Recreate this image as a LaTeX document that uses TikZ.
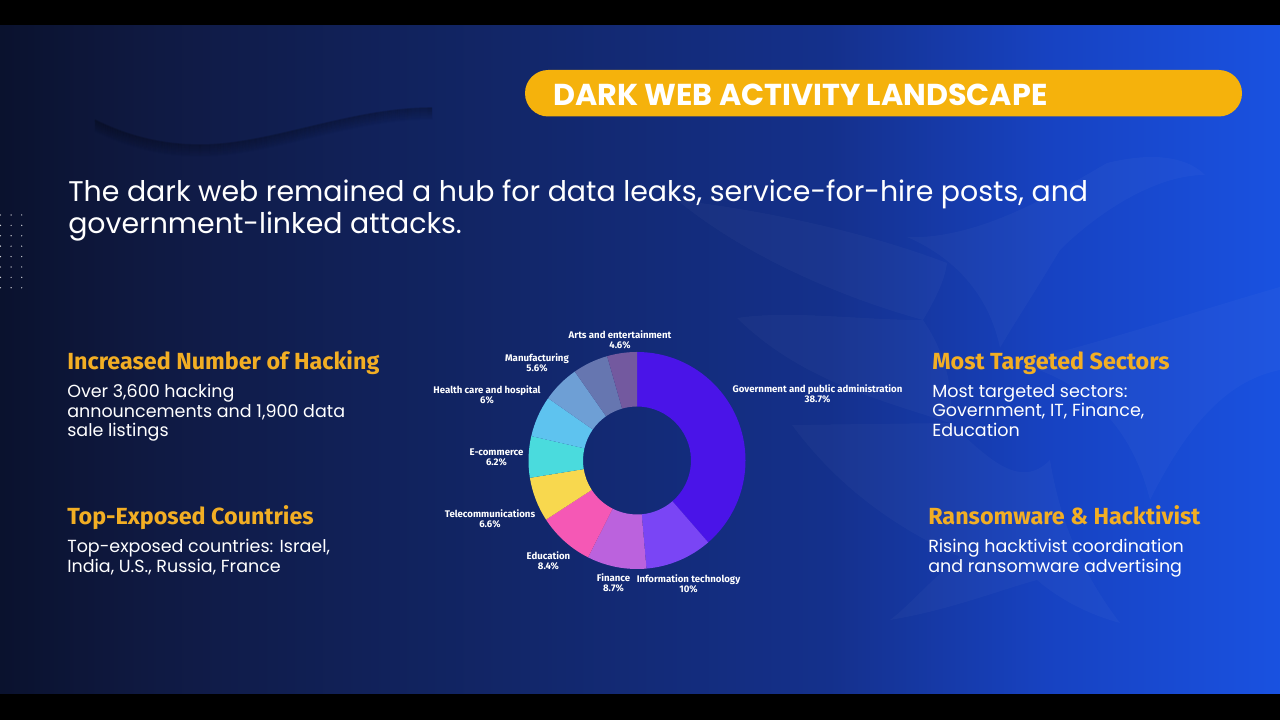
\documentclass[tikz,border=0pt]{standalone}
\usepackage{fontspec}
\setmainfont{Poppins}
\newfontfamily\headfont{Fira Sans}
\definecolor{titlegold}{HTML}{F5B20C}
\definecolor{headgold}{HTML}{F2AE24}
\pgfdeclarehorizontalshading{slidebg}{100bp}{
  rgb(0bp)=(0.04,0.07,0.18);
  rgb(25bp)=(0.04,0.07,0.18);
  rgb(31bp)=(0.06,0.10,0.26);
  rgb(45bp)=(0.07,0.15,0.41);
  rgb(57.5bp)=(0.08,0.19,0.55);
  rgb(66bp)=(0.09,0.26,0.76);
  rgb(75bp)=(0.10,0.32,0.88);
  rgb(100bp)=(0.10,0.32,0.88)}
\tikzset{
  px/.style={x=0.025cm,y=0.025cm},
  headline/.style={anchor=base west,inner sep=0pt,font=\headfont\fontsize{16.6}{20}\selectfont\bfseries,text=headgold},
  bodytext/.style={anchor=north west,inner sep=0pt,align=left,font=\fontsize{12.45}{13.9}\selectfont,text=white},
  chartlabel/.style={align=center,font=\headfont\fontsize{6.85}{7.2}\selectfont\bfseries,text=white}
}
\begin{document}
\begin{tikzpicture}[px]
\useasboundingbox (0,0) rectangle (1280,720);
\fill[black] (0,0) rectangle (1280,720);
\shade[shading=slidebg] (0,26) rectangle (1280,694);
% watermark
\begin{scope}[white,opacity=0.028]
\fill (677,520) .. controls (750,460) and (850,420) .. (923,400) .. controls (935,420) and (945,440) .. (947,457) .. controls (860,490) and (760,510) .. cycle;
\fill (737,402) .. controls (800,340) and (880,320) .. (950,297) .. controls (955,340) and (940,375) .. (923,400) .. controls (860,400) and (790,410) .. cycle;
\fill (792,295) .. controls (840,230) and (900,190) .. (960,163) .. controls (930,140) and (910,115) .. (890,100) .. controls (950,110) and (1000,130) .. (1037,140) .. controls (1060,120) and (1090,105) .. (1120,97) .. controls (1080,150) and (1060,200) .. (1050,260) .. controls (1020,230) and (990,260) .. (950,297) -- cycle;
\fill (907,483) .. controls (980,480) and (1060,530) .. (1107,557) .. controls (1160,570) and (1190,560) .. (1205,545) .. controls (1150,545) and (1090,500) .. (1060,470) .. controls (1030,420) and (1010,390) .. (1000,372) .. controls (990,420) and (960,460) .. cycle;
\fill (1280,433) .. controls (1200,410) and (1110,380) .. (1017,357) .. controls (1080,340) and (1130,300) .. (1150,220) .. controls (1190,300) and (1230,340) .. (1280,350) -- cycle;
\end{scope}
% wave with its shadow
\foreach \i in {0,...,11}{
  \draw[black,opacity=0.16-\i*0.013,line width=1.1pt,yshift=-\i*0.025cm] (95,600) .. controls (125,585) and (160,575) .. (200,575) .. controls (270,575) and (350,612) .. (432,612);
}
% dots
\foreach \i in {0,...,7}{
  \foreach \j in {0,1,2}{
    \fill[white,opacity=0.8] (0.5+\j*10.6,505-\i*10.4) circle (0.7);
  }
}
% title bar
\fill[titlegold,rounded corners=0.58cm] (525,603.5) rectangle (1242,650);
\node[anchor=west,inner sep=0pt,text=white,font=\fontsize{21.5}{24}\selectfont\bfseries] (title) at (553,625) {DARK WEB ACTIVITY LANDSCAPE};
% lead
\node[anchor=north west,inner sep=0pt,align=left,text=white,font=\fontsize{20.2}{22.6}\selectfont] (lead) at (68,540) {The dark web remained a hub for data leaks, service-for-hire posts, and\\government-linked attacks.};
% left and right
\node[headline] (hacking) at (67,350.5) {Increased Number of Hacking};
\node[bodytext] (hackingtext) at (67,336) {Over 3,600 hacking\\announcements and 1,900 data\\sale listings};
\node[headline] (countries) at (67,195.5) {Top-Exposed Countries};
\node[bodytext] (countriestext) at (67,181) {Top-exposed countries: Israel,\\India, U.S., Russia, France};
\node[headline] (sectors) at (932,350.5) {Most Targeted Sectors};
\node[bodytext] (sectorstext) at (932,336) {Most targeted sectors:\\Government, IT, Finance,\\Education};
\node[headline] (ransom) at (928,195.5) {Ransomware \& Hacktivist};
\node[bodytext] (ransomtext) at (928,181) {Rising hacktivist coordination\\and ransomware advertising};
% donut
\coordinate (centre) at (637,259.5);
\foreach \from/\to/\col in {0/139/4A14E8,139/175/7A45F5,175/206.8/BB62DD,206.8/237/F558B5,237/260.8/F8D84E,260.8/283/4ADBDD,283/305/5EC3EF,305/325/6E9FD5,325/344/6676B0,344/360/73599F}{
  \definecolor{slice}{HTML}{\col}
  \fill[slice] ([shift={(90-\from:108.5)}]centre) arc[start angle=90-\from,end angle=90-\to,radius=108.5]
    -- ([shift={(90-\to:54)}]centre) arc[start angle=90-\to,end angle=90-\from,radius=54] -- cycle;
}
% chart labels
\node[chartlabel] (arts) at (620,380) {Arts and entertainment\\4.6\%};
\node[chartlabel] (manuf) at (537,357.5) {Manufacturing\\5.6\%};
\node[chartlabel] (health) at (487,325) {Health care and hospital\\6\%};
\node[chartlabel] (ecom) at (496.5,263) {E-commerce\\6.2\%};
\node[chartlabel] (telecom) at (490,201.5) {Telecommunications\\6.6\%};
\node[chartlabel] (edu) at (548.5,159) {Education\\8.4\%};
\node[chartlabel] (finance) at (613.5,137) {Finance\\8.7\%};
\node[chartlabel] (infotech) at (688.5,136) {Information technology\\10\%};
\node[chartlabel] (gov) at (817.5,326) {Government and public administration\\38.7\%};
\end{tikzpicture}
\end{document}
